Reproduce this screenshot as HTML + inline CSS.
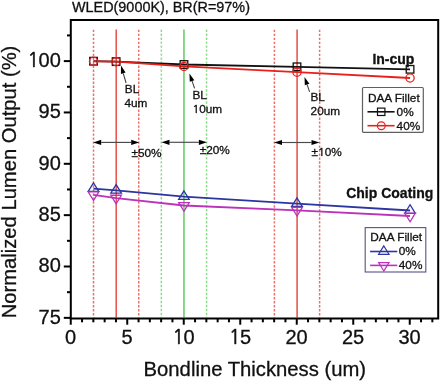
<!DOCTYPE html>
<html><head><meta charset="utf-8"><style>
html,body{margin:0;padding:0;background:#fff;width:440px;height:381px;overflow:hidden}
svg{display:block}
.n1{font-family:"NanumGothic",sans-serif;font-size:19px;letter-spacing:-0.4px;stroke-width:0.55px}
.n1s{font-family:"NanumGothic",sans-serif;font-size:11.3px;letter-spacing:-0.2px;stroke-width:0.45px}
text{font-family:'Liberation Sans',Arial,sans-serif;fill:#111;stroke:#111;stroke-width:0.3px}
</style></head><body>
<svg width="440" height="381" viewBox="0 0 440 381">
<line x1="93.51" y1="29.7" x2="93.51" y2="317.5" stroke="#f07068" stroke-width="1.5" stroke-dasharray="2.4 1.59"/>
<line x1="138.73" y1="29.7" x2="138.73" y2="317.5" stroke="#f07068" stroke-width="1.5" stroke-dasharray="2.4 1.59"/>
<line x1="274.39" y1="29.7" x2="274.39" y2="317.5" stroke="#f07068" stroke-width="1.5" stroke-dasharray="2.4 1.59"/>
<line x1="319.61" y1="29.7" x2="319.61" y2="317.5" stroke="#f07068" stroke-width="1.5" stroke-dasharray="2.4 1.59"/>
<line x1="161.34" y1="29.5" x2="161.34" y2="317.5" stroke="#8ade8a" stroke-width="1.5" stroke-dasharray="2.4 1.59"/>
<line x1="206.56" y1="29.5" x2="206.56" y2="317.5" stroke="#8ade8a" stroke-width="1.5" stroke-dasharray="2.4 1.59"/>
<line x1="116.22" y1="29.5" x2="116.22" y2="317.5" stroke="#e85850" stroke-width="1.6"/>
<line x1="297.10" y1="29.5" x2="297.10" y2="317.5" stroke="#e85850" stroke-width="1.6"/>
<line x1="183.95" y1="29.5" x2="183.95" y2="317.5" stroke="#74d474" stroke-width="1.75"/>
<polyline points="93.51,61.20 116.12,61.60 183.95,64.50 297.00,66.80 410.05,69.30" fill="none" stroke="#111" stroke-width="1.8"/>
<polyline points="93.51,61.30 116.12,61.70 183.95,66.40 297.00,72.20 410.05,78.00" fill="none" stroke="#e8201c" stroke-width="1.8"/>
<polyline points="93.51,188.60 116.12,190.30 183.95,196.60 297.00,203.60 410.05,210.50" fill="none" stroke="#2c36a0" stroke-width="1.8"/>
<polyline points="93.51,194.80 116.12,198.10 183.95,205.50 297.00,210.30 410.05,216.00" fill="none" stroke="#bb32bb" stroke-width="1.8"/>
<rect x="89.71" y="57.40" width="7.6" height="7.6" fill="none" stroke="#111" stroke-width="1.3"/>
<rect x="112.32" y="57.80" width="7.6" height="7.6" fill="none" stroke="#111" stroke-width="1.3"/>
<rect x="180.15" y="60.70" width="7.6" height="7.6" fill="none" stroke="#111" stroke-width="1.3"/>
<rect x="293.20" y="63.00" width="7.6" height="7.6" fill="none" stroke="#111" stroke-width="1.3"/>
<rect x="406.25" y="65.50" width="7.6" height="7.6" fill="none" stroke="#111" stroke-width="1.3"/>
<circle cx="93.51" cy="61.30" r="4.1" fill="none" stroke="#e8201c" stroke-width="1.3"/>
<circle cx="116.12" cy="61.70" r="4.1" fill="none" stroke="#e8201c" stroke-width="1.3"/>
<circle cx="183.95" cy="66.40" r="4.1" fill="none" stroke="#e8201c" stroke-width="1.3"/>
<circle cx="297.00" cy="72.20" r="4.1" fill="none" stroke="#e8201c" stroke-width="1.3"/>
<circle cx="410.05" cy="78.00" r="4.1" fill="none" stroke="#e8201c" stroke-width="1.3"/>
<polygon points="93.51,182.87 88.21,191.47 98.81,191.47" fill="none" stroke="#2c36a0" stroke-width="1.3" stroke-linejoin="miter"/>
<polygon points="116.12,184.57 110.82,193.17 121.42,193.17" fill="none" stroke="#2c36a0" stroke-width="1.3" stroke-linejoin="miter"/>
<polygon points="183.95,190.87 178.65,199.47 189.25,199.47" fill="none" stroke="#2c36a0" stroke-width="1.3" stroke-linejoin="miter"/>
<polygon points="297.00,197.87 291.70,206.47 302.30,206.47" fill="none" stroke="#2c36a0" stroke-width="1.3" stroke-linejoin="miter"/>
<polygon points="410.05,204.77 404.75,213.37 415.35,213.37" fill="none" stroke="#2c36a0" stroke-width="1.3" stroke-linejoin="miter"/>
<polygon points="93.51,200.53 88.21,191.93 98.81,191.93" fill="none" stroke="#bb32bb" stroke-width="1.3" stroke-linejoin="miter"/>
<polygon points="116.12,203.83 110.82,195.23 121.42,195.23" fill="none" stroke="#bb32bb" stroke-width="1.3" stroke-linejoin="miter"/>
<polygon points="183.95,211.23 178.65,202.63 189.25,202.63" fill="none" stroke="#bb32bb" stroke-width="1.3" stroke-linejoin="miter"/>
<polygon points="297.00,216.03 291.70,207.43 302.30,207.43" fill="none" stroke="#bb32bb" stroke-width="1.3" stroke-linejoin="miter"/>
<polygon points="410.05,221.73 404.75,213.13 415.35,213.13" fill="none" stroke="#bb32bb" stroke-width="1.3" stroke-linejoin="miter"/>
<path d="M70.8,20.0 H438.2 V318.4 H70.8 Z" fill="none" stroke="#000" stroke-width="2"/>
<line x1="70.75" y1="318.4" x2="70.75" y2="324.70" stroke="#000" stroke-width="2"/>
<line x1="82.05" y1="318.4" x2="82.05" y2="322.30" stroke="#000" stroke-width="2"/>
<line x1="93.35" y1="318.4" x2="93.35" y2="322.30" stroke="#000" stroke-width="2"/>
<line x1="104.65" y1="318.4" x2="104.65" y2="322.30" stroke="#000" stroke-width="2"/>
<line x1="115.95" y1="318.4" x2="115.95" y2="322.30" stroke="#000" stroke-width="2"/>
<line x1="127.25" y1="318.4" x2="127.25" y2="324.70" stroke="#000" stroke-width="2"/>
<line x1="138.55" y1="318.4" x2="138.55" y2="322.30" stroke="#000" stroke-width="2"/>
<line x1="149.85" y1="318.4" x2="149.85" y2="322.30" stroke="#000" stroke-width="2"/>
<line x1="161.15" y1="318.4" x2="161.15" y2="322.30" stroke="#000" stroke-width="2"/>
<line x1="172.45" y1="318.4" x2="172.45" y2="322.30" stroke="#000" stroke-width="2"/>
<line x1="183.75" y1="318.4" x2="183.75" y2="324.70" stroke="#000" stroke-width="2"/>
<line x1="195.05" y1="318.4" x2="195.05" y2="322.30" stroke="#000" stroke-width="2"/>
<line x1="206.35" y1="318.4" x2="206.35" y2="322.30" stroke="#000" stroke-width="2"/>
<line x1="217.65" y1="318.4" x2="217.65" y2="322.30" stroke="#000" stroke-width="2"/>
<line x1="228.95" y1="318.4" x2="228.95" y2="322.30" stroke="#000" stroke-width="2"/>
<line x1="240.25" y1="318.4" x2="240.25" y2="324.70" stroke="#000" stroke-width="2"/>
<line x1="251.55" y1="318.4" x2="251.55" y2="322.30" stroke="#000" stroke-width="2"/>
<line x1="262.85" y1="318.4" x2="262.85" y2="322.30" stroke="#000" stroke-width="2"/>
<line x1="274.15" y1="318.4" x2="274.15" y2="322.30" stroke="#000" stroke-width="2"/>
<line x1="285.45" y1="318.4" x2="285.45" y2="322.30" stroke="#000" stroke-width="2"/>
<line x1="296.75" y1="318.4" x2="296.75" y2="324.70" stroke="#000" stroke-width="2"/>
<line x1="308.05" y1="318.4" x2="308.05" y2="322.30" stroke="#000" stroke-width="2"/>
<line x1="319.35" y1="318.4" x2="319.35" y2="322.30" stroke="#000" stroke-width="2"/>
<line x1="330.65" y1="318.4" x2="330.65" y2="322.30" stroke="#000" stroke-width="2"/>
<line x1="341.95" y1="318.4" x2="341.95" y2="322.30" stroke="#000" stroke-width="2"/>
<line x1="353.25" y1="318.4" x2="353.25" y2="324.70" stroke="#000" stroke-width="2"/>
<line x1="364.55" y1="318.4" x2="364.55" y2="322.30" stroke="#000" stroke-width="2"/>
<line x1="375.85" y1="318.4" x2="375.85" y2="322.30" stroke="#000" stroke-width="2"/>
<line x1="387.15" y1="318.4" x2="387.15" y2="322.30" stroke="#000" stroke-width="2"/>
<line x1="398.45" y1="318.4" x2="398.45" y2="322.30" stroke="#000" stroke-width="2"/>
<line x1="409.75" y1="318.4" x2="409.75" y2="324.70" stroke="#000" stroke-width="2"/>
<line x1="421.05" y1="318.4" x2="421.05" y2="322.30" stroke="#000" stroke-width="2"/>
<line x1="432.35" y1="318.4" x2="432.35" y2="322.30" stroke="#000" stroke-width="2"/>
<line x1="70.8" y1="317.85" x2="63.80" y2="317.85" stroke="#000" stroke-width="2"/>
<line x1="70.8" y1="292.18" x2="67.00" y2="292.18" stroke="#000" stroke-width="2"/>
<line x1="70.8" y1="266.50" x2="63.80" y2="266.50" stroke="#000" stroke-width="2"/>
<line x1="70.8" y1="240.82" x2="67.00" y2="240.82" stroke="#000" stroke-width="2"/>
<line x1="70.8" y1="215.15" x2="63.80" y2="215.15" stroke="#000" stroke-width="2"/>
<line x1="70.8" y1="189.47" x2="67.00" y2="189.47" stroke="#000" stroke-width="2"/>
<line x1="70.8" y1="163.80" x2="63.80" y2="163.80" stroke="#000" stroke-width="2"/>
<line x1="70.8" y1="138.12" x2="67.00" y2="138.12" stroke="#000" stroke-width="2"/>
<line x1="70.8" y1="112.45" x2="63.80" y2="112.45" stroke="#000" stroke-width="2"/>
<line x1="70.8" y1="86.78" x2="67.00" y2="86.78" stroke="#000" stroke-width="2"/>
<line x1="70.8" y1="61.10" x2="63.80" y2="61.10" stroke="#000" stroke-width="2"/>
<line x1="70.8" y1="35.43" x2="67.00" y2="35.43" stroke="#000" stroke-width="2"/>
<text x="70.60" y="343.8" font-size="20" text-anchor="middle">0</text>
<text x="127.10" y="343.8" font-size="20" text-anchor="middle">5</text>
<text x="183.60" y="343.8" font-size="20" text-anchor="middle"><tspan class="n1">1</tspan>0</text>
<text x="240.10" y="343.8" font-size="20" text-anchor="middle"><tspan class="n1">1</tspan>5</text>
<text x="296.60" y="343.8" font-size="20" text-anchor="middle">20</text>
<text x="353.10" y="343.8" font-size="20" text-anchor="middle">25</text>
<text x="409.60" y="343.8" font-size="20" text-anchor="middle">30</text>
<text x="60.8" y="323.75" font-size="20" text-anchor="end">75</text>
<text x="60.8" y="272.40" font-size="20" text-anchor="end">80</text>
<text x="60.8" y="221.05" font-size="20" text-anchor="end">85</text>
<text x="60.8" y="169.70" font-size="20" text-anchor="end">90</text>
<text x="60.8" y="118.35" font-size="20" text-anchor="end">95</text>
<text x="60.8" y="67.00" font-size="20" text-anchor="end"><tspan class="n1">1</tspan>00</text>
<text x="72.0" y="11.5" font-size="14.4">WLED(9000K), BR(R=97%)</text>
<text x="143.6" y="375.9" font-size="20.25">Bondline Thickness (um)</text>
<text transform="translate(16.1,318.3) rotate(-90)" font-size="20.2">Normalized Lumen Output (%)</text>
<line x1="126.10" y1="83.00" x2="123.25" y2="73.28" stroke="#3a3a3a" stroke-width="1.05"/>
<polygon points="121.00,65.60 125.55,72.60 120.95,73.95" fill="#000"/>
<line x1="194.60" y1="88.30" x2="192.04" y2="80.95" stroke="#3a3a3a" stroke-width="1.05"/>
<polygon points="189.40,73.40 194.30,80.16 189.77,81.74" fill="#000"/>
<line x1="309.60" y1="91.80" x2="307.11" y2="84.56" stroke="#3a3a3a" stroke-width="1.05"/>
<polygon points="304.50,77.00 309.38,83.78 304.84,85.35" fill="#000"/>
<line x1="101.20" y1="142.4" x2="131.20" y2="142.4" stroke="#4a4a4a" stroke-width="1.15"/>
<polygon points="93.20,142.4 101.20,139.8 101.20,145.0" fill="#000"/>
<polygon points="139.20,142.4 131.20,139.8 131.20,145.0" fill="#000"/>
<line x1="169.50" y1="142.3" x2="198.90" y2="142.3" stroke="#4a4a4a" stroke-width="1.15"/>
<polygon points="161.50,142.3 169.50,139.70000000000002 169.50,144.9" fill="#000"/>
<polygon points="206.90,142.3 198.90,139.70000000000002 198.90,144.9" fill="#000"/>
<line x1="282.00" y1="142.5" x2="311.50" y2="142.5" stroke="#4a4a4a" stroke-width="1.15"/>
<polygon points="274.00,142.5 282.00,139.9 282.00,145.1" fill="#000"/>
<polygon points="319.50,142.5 311.50,139.9 311.50,145.1" fill="#000"/>
<text x="124.8" y="92.8" font-size="11.8" >BL</text>
<text x="124.4" y="107.1" font-size="11.8" >4um</text>
<text x="192.4" y="98.7" font-size="11.8" >BL</text>
<text x="192.5" y="112.7" font-size="11.8" ><tspan class="n1s">1</tspan>0um</text>
<text x="310.5" y="101.1" font-size="11.8" >BL</text>
<text x="310.6" y="114.9" font-size="11.8" >20um</text>
<text x="131.5" y="156.8" font-size="11.8" >±50%</text>
<text x="199.7" y="154.4" font-size="11.8" >±20%</text>
<text x="311.5" y="155.6" font-size="11.8" >±<tspan class="n1s">1</tspan>0%</text>
<text x="372.4" y="63.7" font-size="14" font-weight="bold">In-cup</text>
<text x="346.2" y="198.4" font-size="14" font-weight="bold">Chip Coating</text>
<rect x="362.5" y="87.5" width="60.8" height="44.8" rx="1" fill="#fff" stroke="#606060" stroke-width="1.2"/>
<text x="367.9" y="101.7" font-size="11.8" >DAA Fillet</text>
<line x1="367.5" y1="111.8" x2="394.6" y2="111.8" stroke="#111" stroke-width="1.6"/>
<rect x="377.50" y="108.10" width="7.4" height="7.4" fill="none" stroke="#111" stroke-width="1.2"/>
<text x="396.6" y="115.5" font-size="11.8" >0%</text>
<line x1="367.5" y1="125.7" x2="394.6" y2="125.7" stroke="#e8201c" stroke-width="1.6"/>
<circle cx="381.30" cy="125.70" r="3.9" fill="none" stroke="#e8201c" stroke-width="1.2"/>
<text x="396.6" y="129.6" font-size="11.8" >40%</text>
<rect x="365.2" y="227.6" width="60.6" height="44.4" fill="#fff" stroke="#5a5a8e" stroke-width="1.15"/>
<text x="370.3" y="240.8" font-size="11.8" >DAA Fillet</text>
<line x1="370.1" y1="251.5" x2="397.3" y2="251.5" stroke="#2c36a0" stroke-width="1.6"/>
<polygon points="383.80,245.90 378.60,254.30 389.00,254.30" fill="none" stroke="#2c36a0" stroke-width="1.2" stroke-linejoin="miter"/>
<text x="398.8" y="255.3" font-size="11.8" >0%</text>
<line x1="370.1" y1="265.4" x2="397.3" y2="265.4" stroke="#bb32bb" stroke-width="1.6"/>
<polygon points="383.80,271.00 378.60,262.60 389.00,262.60" fill="none" stroke="#bb32bb" stroke-width="1.2" stroke-linejoin="miter"/>
<text x="398.8" y="269.3" font-size="11.8" >40%</text>
</svg>
</body></html>
